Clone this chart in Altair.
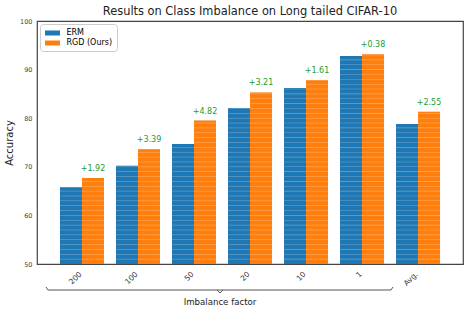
import altair as alt
import pandas as pd

groups = ["200", "100", "50", "20", "10", "1", "Avg."]
erm = [65.8, 70.2, 74.7, 82.1, 86.2, 92.8, 78.8]
rgd = [67.72, 73.59, 79.52, 85.31, 87.81, 93.18, 81.35]
gains = ["+1.92", "+3.39", "+4.82", "+3.21", "+1.61", "+0.38", "+2.55"]
series = ["ERM", "RGD (Ours)"]
colors = ["#1f77b4", "#ff7f0e"]

rows = []
for g, e, r, t in zip(groups, erm, rgd, gains):
    rows.append({"group": g, "series": series[0], "value": e, "gain": ""})
    rows.append({"group": g, "series": series[1], "value": r, "gain": t})
df = pd.DataFrame(rows)

x = alt.X("group:N", sort=groups, title=None,
          scale=alt.Scale(paddingInner=0.214, paddingOuter=0.41),
          axis=alt.Axis(labelAngle=-45, labelAlign="right", labelBaseline="top",
                        labelFontSize=7.5, labelColor="#333", ticks=False,
                        labelPadding=6, labelOffset=-4, domain=False))
xo = alt.XOffset("series:N", sort=series)
y_scale = alt.Scale(domain=[50, 100], nice=False)

base = alt.Chart(df)

shadow = base.mark_bar(xOffset=2, color="#999", opacity=0.35, clip=True).encode(
    x=x, xOffset=xo,
    y=alt.Y("value:Q", scale=y_scale),
    y2=alt.Y2(datum=50),
)

bars = base.mark_bar(clip=True).encode(
    x=x, xOffset=xo,
    y=alt.Y("value:Q", scale=y_scale, title="Accuracy",
            axis=alt.Axis(values=[50, 60, 70, 80, 90, 100], ticks=False, grid=False,
                          domain=False, labelFontSize=6.5, labelColor="#444",
                          titleFontSize=10, titleFontWeight="normal", titlePadding=5,
                          labelPadding=5)),
    y2=alt.Y2(datum=50),
    color=alt.Color("series:N", sort=series,
                    scale=alt.Scale(domain=series, range=colors),
                    legend=alt.Legend(title=None, orient="top-left", offset=3,
                                      fillColor="white", strokeColor="#ccc",
                                      padding=4, cornerRadius=3, labelFontSize=8,
                                      symbolType="M-1.5,-0.5L1.5,-0.5L1.5,0.5L-1.5,0.5Z",
                                      symbolSize=100, symbolStrokeWidth=0,
                                      symbolOffset=3.5, labelOffset=9,
                                      rowPadding=1)),
)

stripes = base.transform_calculate(
    s="sequence(51, datum.value, 1)"
).transform_flatten(["s"]).mark_tick(color="white", opacity=0.35, thickness=0.6).encode(
    x=x, xOffset=xo,
    y=alt.Y("s:Q", scale=y_scale),
)

labels = base.transform_filter("datum.gain != ''").mark_text(
    color="#2a9a2a", fontSize=8, dy=-5, baseline="bottom"
).encode(
    x=x, xOffset=xo,
    y=alt.Y("value:Q", scale=y_scale),
    text="gain:N",
)

one = pd.DataFrame({"a": [0]})
brace_line = alt.Chart(one).mark_rule(color="#555", strokeWidth=1).encode(
    x=alt.value(11), x2=alt.value(354), y=alt.value(269))
brace_l = alt.Chart(one).mark_rule(color="#555", strokeWidth=1).encode(
    x=alt.value(9), x2=alt.value(11), y=alt.value(266), y2=alt.value(269))
brace_r = alt.Chart(one).mark_rule(color="#555", strokeWidth=1).encode(
    x=alt.value(354), x2=alt.value(356), y=alt.value(269), y2=alt.value(266))
notch_a = alt.Chart(one).mark_rule(color="#555", strokeWidth=1).encode(
    x=alt.value(180), x2=alt.value(183), y=alt.value(269), y2=alt.value(272))
notch_b = alt.Chart(one).mark_rule(color="#555", strokeWidth=1).encode(
    x=alt.value(183), x2=alt.value(186), y=alt.value(272), y2=alt.value(269))
xlabel = alt.Chart(pd.DataFrame({"t": ["Imbalance factor"]})).mark_text(
    fontSize=8.6, color="#222", baseline="middle", align="center").encode(
    x=alt.value(183), y=alt.value(281), text="t:N")

chart = alt.layer(shadow, bars, stripes, labels, brace_line, brace_l, brace_r,
                  notch_a, notch_b, xlabel).properties(
    width=426, height=243,
    title=alt.TitleParams("Results on Class Imbalance on Long tailed CIFAR-10",
                          fontSize=11.4, fontWeight="normal", anchor="middle",
                          color="#222", offset=1),
    autosize=alt.AutoSizeParams(type="none"),
    padding={"left": 37, "top": 21, "right": 11, "bottom": 57},
).configure(
    font="DejaVu Sans"
).configure_view(stroke="#444", strokeWidth=1.2).configure_axis(
    labelFont="DejaVu Sans", titleFont="DejaVu Sans", titleColor="#222")

chart.save("out.html", embed_options={"renderer": "svg", "actions": False})
